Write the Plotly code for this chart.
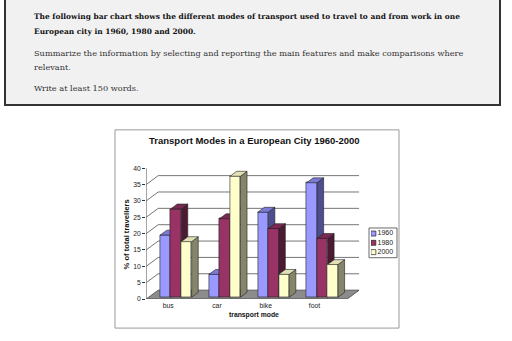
import plotly.graph_objects as go

# ---- data -------------------------------------------------------------
categories = ["bus", "car", "bike", "foot"]
years = ["1960", "1980", "2000"]
share_1960 = [19, 7, 26, 35]
share_1980 = [27, 24, 21, 18]
share_2000 = [17, 37, 7, 10]
y_ticks = [0, 5, 10, 15, 20, 25, 30, 35, 40]

series = [share_1960, share_1980, share_2000]

# ---- styling / geometry ------------------------------------------------
W, H = 512, 341
front_color = ["#9999FF", "#993366", "#FFFFCC"]
side_color = ["#4D4D8F", "#4D1A33", "#85856B"]
top_color = ["#7B7BD6", "#7A2952", "#E0E0B4"]
EDGE = "#222222"
AX_FONT = "Liberation Sans"

DX, DY = 0.246, 2.727        # depth of the 3-D box, in data units
BAR_W = 0.215                # column width, in category units
T0, T1 = 0.2, 0.75           # front / back depth of the columns
X_LO, X_HI = -0.56, 3.56     # floor extent at the front plane
Y_MAX = 40


def px(x):
    return x / W


def py(y):
    return 1 - y / H


fig = go.Figure()

# floor
fig.add_trace(go.Scatter(
    x=[X_LO, X_HI, X_HI + DX, X_LO + DX, X_LO],
    y=[0, 0, DY, DY, 0],
    fill="toself", fillcolor="#8C8C8C", mode="lines",
    line=dict(color="#333333", width=0.7), hoverinfo="skip", showlegend=False,
))

# wall gridlines: diagonal on the side wall, horizontal on the back wall
gx, gy = [], []
for v in y_ticks[1:-1]:
    gx += [X_LO, X_LO + DX, X_HI + DX, None]
    gy += [v, v + DY, v + DY, None]
fig.add_trace(go.Scatter(
    x=gx, y=gy, mode="lines", line=dict(color="#3a3a3a", width=0.7),
    hoverinfo="skip", showlegend=False,
))

# value axis line
fig.add_trace(go.Scatter(
    x=[X_LO, X_LO], y=[0, Y_MAX], mode="lines",
    line=dict(color="#333333", width=0.8), hoverinfo="skip", showlegend=False,
))

# columns: one overlaid subplot per year so later years paint over earlier ones
d = T1 - T0
for k, vals in enumerate(series):
    xa, ya = f"x{k + 2}", f"y{k + 2}"
    centers = [i + (k - 1) * BAR_W + T0 * DX for i in range(len(categories))]
    base = T0 * DY
    fig.add_trace(go.Bar(
        x=centers, y=vals, base=base, width=BAR_W, name=years[k],
        marker=dict(color=front_color[k], line=dict(color=EDGE, width=0.6)),
        xaxis=xa, yaxis=ya, showlegend=False,
    ))
    sx, sy, tx, ty = [], [], [], []
    for c, v in zip(centers, vals):
        xr = c + BAR_W / 2
        xl = c - BAR_W / 2
        yt = base + v
        sx += [xr, xr + d * DX, xr + d * DX, xr, xr, None]
        sy += [base, base + d * DY, yt + d * DY, yt, base, None]
        tx += [xl, xr, xr + d * DX, xl + d * DX, xl, None]
        ty += [yt, yt, yt + d * DY, yt + d * DY, yt, None]
    fig.add_trace(go.Scatter(
        x=sx, y=sy, fill="toself", fillcolor=side_color[k], mode="lines",
        line=dict(color=EDGE, width=0.6), xaxis=xa, yaxis=ya,
        hoverinfo="skip", showlegend=False,
    ))
    fig.add_trace(go.Scatter(
        x=tx, y=ty, fill="toself", fillcolor=top_color[k], mode="lines",
        line=dict(color=EDGE, width=0.6), xaxis=xa, yaxis=ya,
        hoverinfo="skip", showlegend=False,
    ))

# legend drawn in its own small axes
fig.add_trace(go.Scatter(
    x=[0, 0, 0], y=[2, 1, 0], mode="markers+text", text=years,
    textposition="middle right",
    textfont=dict(family=AX_FONT, size=7, color="#222222"),
    marker=dict(symbol="square", size=5, color=front_color,
                line=dict(color="#222222", width=0.7)),
    xaxis="x5", yaxis="y5", hoverinfo="skip", showlegend=False,
))

x_dom = [px(146.2), px(359.2)]
y_dom = [py(301.7), py(160.7)]
x_rng = [X_LO, X_HI + DX]
y_rng = [0, Y_MAX + DY]

layout = dict(
    width=W, height=H, margin=dict(l=0, r=0, t=0, b=0),
    paper_bgcolor="white", plot_bgcolor="rgba(0,0,0,0)",
    bargap=0, showlegend=False,
    xaxis=dict(domain=x_dom, range=x_rng, showgrid=False, zeroline=False,
               showline=False, ticks="",
               tickvals=[i - 0.11 for i in range(len(categories))],
               ticktext=categories, ticklabelstandoff=1,
               tickfont=dict(family=AX_FONT, size=6.8, color="#222222")),
    yaxis=dict(domain=y_dom, range=y_rng, showgrid=False, zeroline=False,
               showline=False, ticks="outside", ticklen=3, tickwidth=0.8,
               tickcolor="#333333", tickvals=y_ticks,
               tickfont=dict(family=AX_FONT, size=6.8, color="#222222")),
    xaxis5=dict(domain=[px(371), px(397)], range=[-0.3, 3.0], visible=False),
    yaxis5=dict(domain=[py(260), py(230)], range=[-0.6, 2.6], visible=False),
)
for k in range(3):
    layout[f"xaxis{k + 2}"] = dict(overlaying="x", range=x_rng, visible=False)
    layout[f"yaxis{k + 2}"] = dict(overlaying="y", range=y_rng, visible=False)
fig.update_layout(**layout)

shapes = [
    # instructions panel
    dict(type="rect", xref="paper", yref="paper", x0=px(5), x1=px(500),
         y0=py(106), y1=py(-10), fillcolor="#F1F1F1",
         line=dict(color="#333333", width=2), layer="below"),
    # chart frame
    dict(type="rect", xref="paper", yref="paper", x0=px(115), x1=px(399),
         y0=py(331), y1=py(131), fillcolor="white",
         line=dict(color="#9A9A9A", width=1), layer="below"),
    # legend frame
    dict(type="rect", xref="paper", yref="paper", x0=px(369), x1=px(397),
         y0=py(260), y1=py(230), fillcolor="white",
         line=dict(color="#444444", width=0.8), layer="below"),
]
fig.update_layout(shapes=shapes)

SERIF = "DejaVu Serif"
prompt = [
    ("The following bar chart shows the different modes of transport used to travel to and from work in one", 17, True),
    ("European city in 1960, 1980 and 2000.", 32, True),
    ("Summarize the information by selecting and reporting the main features and make comparisons where", 53, False),
    ("relevant.", 68, False),
    ("Write at least 150 words.", 89, False),
]
ann = []
for text, y, bold in prompt:
    ann.append(dict(
        text=text, x=px(32), y=py(y), xref="paper", yref="paper",
        xanchor="left", yanchor="middle", showarrow=False,
        font=dict(family=SERIF, size=7.45 if bold else 8.2,
                  color="#111111" if bold else "#333333",
                  weight="bold" if bold else "normal"),
    ))
ann += [
    dict(text="Transport Modes in a European City 1960-2000", x=px(254), y=py(142),
         xref="paper", yref="paper", showarrow=False,
         font=dict(family=AX_FONT, size=9.5, color="#111111", weight="bold")),
    dict(text="% of total travellers", x=px(126.5), y=py(237), textangle=-90,
         xref="paper", yref="paper", xanchor="center", yanchor="middle",
         showarrow=False,
         font=dict(family=AX_FONT, size=7.6, color="#111111", weight="bold")),
    dict(text="transport mode", x=px(254), y=py(324),
         xref="paper", yref="paper", showarrow=False,
         font=dict(family=AX_FONT, size=6.8, color="#111111", weight="bold")),
]
fig.update_layout(annotations=ann)

fig.write_html("out.html")
